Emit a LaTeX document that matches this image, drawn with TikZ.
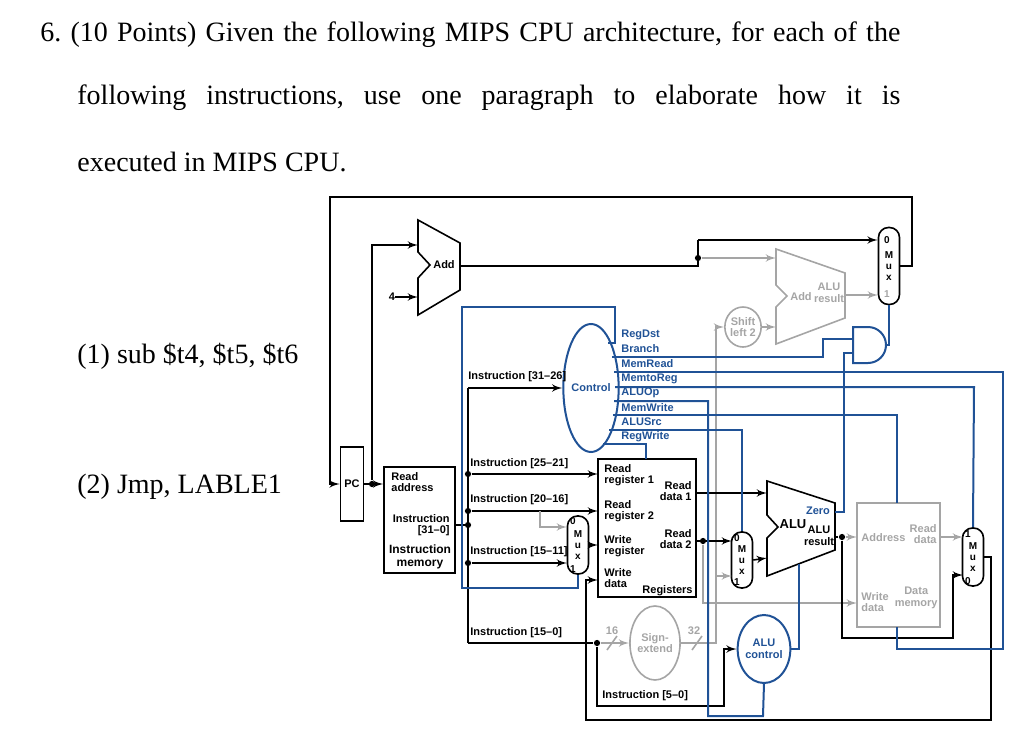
\documentclass[tikz,border=0pt]{standalone}
\usepackage{fontspec}
\setmainfont{Liberation Serif}
\newfontfamily\dsans{Liberation Sans}
\usetikzlibrary{shapes.geometric, arrows, positioning}
\definecolor{ctrlblue}{RGB}{32,82,150}
\definecolor{dimgray}{RGB}{165,165,165}
\tikzstyle{wire} = [draw, line width=0.8pt]
\tikzstyle{line} = [wire, -latex']
\tikzstyle{ctl} = [draw=ctrlblue, line width=1pt]
\tikzstyle{ghost} = [draw=dimgray, line width=0.8pt]
\tikzstyle{lbl} = [font=\dsans\bfseries\fontsize{5.5}{5.8}\selectfont, inner sep=0pt, align=center]
\tikzstyle{mux} = [draw, line width=0.8pt, rounded corners=5pt, minimum width=10.5pt, inner sep=0pt, align=center, font=\dsans\bfseries\fontsize{5}{5.3}\selectfont]
\tikzstyle{dot} = [circle, fill, inner sep=1.1pt]
\tikzstyle{qtext} = [anchor=west, inner sep=0pt, font=\fontsize{14}{16}\selectfont]

\begin{document}
\begin{tikzpicture}[x=0.5pt, y=-0.5pt]
        \useasboundingbox (0,0) rectangle (1024,750);
        % Question
        \node [qtext] (q1) at (40,35) {\hbox to 430pt{6.\hfill (10\hfill Points)\hfill Given\hfill the\hfill following\hfill MIPS\hfill CPU\hfill architecture,\hfill for\hfill each\hfill of\hfill the}};
        \node [qtext] (q2) at (77,98) {\hbox to 411.5pt{following\hfill instructions,\hfill use\hfill one\hfill paragraph\hfill to\hfill elaborate\hfill how\hfill it\hfill is}};
        \node [qtext] (q3) at (77,162) {executed in MIPS CPU.};
        \node [qtext] (i1) at (77,356) {(1) sub \$t4, \$t5, \$t6};
        \node [qtext] (i2) at (77,487) {(2) Jmp, LABLE1};

        % Blocks
        \node [draw, line width=0.8pt, minimum width=11.5pt, minimum height=37pt, lbl, inner sep=0pt] (pc) at (352,484) {PC};
        \node [draw, line width=0.8pt, minimum width=35.5pt, minimum height=53pt] (imem) at (419.5,520) {};
        \node [lbl, anchor=north west, align=left] (imemra) at (391,472) {Read\\address};
        \node [lbl, anchor=east, align=right] (imemins) at (450,525) {Instruction\\{[31–0]}};
        \node [lbl, font=\dsans\bfseries\fontsize{6}{6.3}\selectfont] (imemname) at (420,557) {Instruction\\memory};
        \draw [wire] (418,220) -- (460,243) -- (460,290) -- (418,315) -- (418,278) -- (430,265) -- (418,252) -- cycle;
        \node [lbl] (add1) at (444,265) {Add};
        \node [lbl] (four) at (392,297) {4};
        \draw [ghost] (776,249) -- (845,273) -- (845,318) -- (776,344) -- (776,307) -- (787,296) -- (776,285) -- cycle;
        \node [lbl, text=dimgray] (add2) at (801,297) {Add};
        \node [lbl, text=dimgray] (add2res) at (829,293) {ALU\\result};
        \node [ellipse, ghost, minimum width=17pt, minimum height=20pt, inner sep=0pt, lbl, text=dimgray] (shift) at (743,327) {Shift\\left 2};
        \node [mux, minimum height=38.5pt] (pcmux) at (889,266) {M\\u\\x};
        \node [lbl, font=\dsans\bfseries\fontsize{5}{5}\selectfont] (pcmux0) at (887,240) {0};
        \node [lbl, font=\dsans\bfseries\fontsize{5}{5}\selectfont, text=dimgray] (pcmux1) at (887,294) {1};
        \draw [ctl] (853,327) -- (868,327) arc[start angle=90, end angle=-90, radius=9pt] -- (853,363) -- cycle;

        \node [ellipse, ctl, minimum width=24pt, minimum height=64pt, inner sep=0pt, lbl, text=ctrlblue] (control) at (591,388) {Control};
        \foreach \sname/\yy in {RegDst/335, Branch/349, MemRead/364, MemtoReg/379, ALUOp/393, MemWrite/408, ALUSrc/422, RegWrite/437}
            \node [lbl, text=ctrlblue, anchor=west] (sig\sname) at (621,\yy) {\sname};

        \node [draw, line width=0.8pt, minimum width=49pt, minimum height=69pt] (regs) at (647,528) {};
        \node [lbl, anchor=north west, align=left] (rr1) at (604,464) {Read\\register 1};
        \node [lbl, anchor=north west, align=left] (rr2) at (604,500) {Read\\register 2};
        \node [lbl, anchor=north west, align=left] (wr) at (604,535) {Write\\register};
        \node [lbl, anchor=north west, align=left] (wd) at (604,568) {Write\\data};
        \node [lbl, anchor=north east, align=right] (rd1) at (692,481) {Read\\data 1};
        \node [lbl, anchor=north east, align=right] (rd2) at (692,529) {Read\\data 2};
        \node [lbl, anchor=north east] (regname) at (693,585) {Registers};
        \node [mux, minimum height=29pt] (rdmux) at (578,545) {M\\u\\x};
        \node [lbl, font=\dsans\bfseries\fontsize{5}{5}\selectfont] (rdmux0) at (573,521) {0};
        \node [lbl, font=\dsans\bfseries\fontsize{5}{5}\selectfont] (rdmux1) at (573,569) {1};
        \node [ellipse, ghost, minimum width=22.5pt, minimum height=37pt, inner sep=0pt, lbl, text=dimgray] (sign) at (655,643) {Sign-\\extend};
        \node [mux, minimum height=28pt] (srcmux) at (742,560) {M\\u\\x};
        \node [lbl, font=\dsans\bfseries\fontsize{5}{5}\selectfont] (srcmux0) at (737,538) {0};
        \node [lbl, font=\dsans\bfseries\fontsize{5}{5}\selectfont] (srcmux1) at (737,582) {1};
        \draw [wire] (767,481) -- (835,503) -- (835,550) -- (767,576) -- (767,538) -- (778,527) -- (767,515) -- cycle;
        \node [lbl, font=\dsans\bfseries\fontsize{6.5}{7}\selectfont] (alu) at (793,524) {ALU};
        \node [lbl, text=ctrlblue] (zero) at (818,511) {Zero};
        \node [lbl] (alures) at (819,536) {ALU\\result};
        \node [ellipse, ctl, minimum width=24pt, minimum height=34pt, inner sep=0pt, lbl, text=ctrlblue] (aluctl) at (764,649) {ALU\\control};
        \node [draw=dimgray, line width=0.8pt, minimum width=41.5pt, minimum height=62pt] (dmem) at (898.5,565) {};
        \node [lbl, text=dimgray, anchor=west] (dmaddr) at (861,538) {Address};
        \node [lbl, text=dimgray, anchor=east, align=right] (dmrd) at (937,534) {Read\\data};
        \node [lbl, text=dimgray, anchor=west, align=left] (dmwd) at (861,602) {Write\\data};
        \node [lbl, text=dimgray, anchor=east] (dmname) at (938,598) {Data\\memory};
        \node [mux, minimum height=29pt] (wbmux) at (973,557) {M\\u\\x};
        \node [lbl, font=\dsans\bfseries\fontsize{5}{5}\selectfont] (wbmux1) at (968,534) {1};
        \node [lbl, font=\dsans\bfseries\fontsize{5}{5}\selectfont] (wbmux0) at (968,581) {0};

        % Instruction fields
        \node [lbl, anchor=south west] (f3126) at (468,382) {Instruction [31–26]};
        \node [lbl, anchor=south west] (f2521) at (470,469) {Instruction [25–21]};
        \node [lbl, anchor=south west] (f2016) at (470,505) {Instruction [20–16]};
        \node [lbl, anchor=south west] (f1511) at (470,557) {Instruction [15–11]};
        \node [lbl, anchor=south west] (f150) at (470,638) {Instruction [15–0]};
        \node [lbl, anchor=south west] (f50) at (602,701) {Instruction [5–0]};
        \node [lbl, text=dimgray] (w16) at (612,631) {16};
        \node [lbl, text=dimgray] (w32) at (694,631) {32};

        % Datapath wires
        \draw [line] (pcmux.east) -- (912,266) -- (912,197) -- (330,197) -- (330,484) -- (pc.west);
        \draw [line] (pc.east) -- (imem.west |- pc.east);
        \node [dot] (jpc) at (372,484) {};
        \draw [line] (jpc) |- (418,245);
        \draw [line] (four) -- (418,297);
        \draw [wire] (460,266) -- (698,266) -- (698,240);
        \draw [line] (698,240) -- (pcmux.west |- 0,240);
        \node [dot] (jadd) at (698,258) {};
        \draw [ghost, -latex'] (jadd) -- (776,258);
        \draw [ghost, -latex'] (845,295) -- (878,295);
        \draw [ghost, -latex'] (shift) -- (776,327);
        \draw [wire] (455,525) -- (468,525);
        \draw [wire] (468,388) -- (468,643);
        \draw [line] (468,388) -- (control.west);
        \foreach \yy in {474,511,525,563} \node [dot] (jb\yy) at (468,\yy) {};
        \draw [line] (jb474) -- (598,474);
        \draw [line] (jb511) -- (598,511);
        \draw [line] (jb563) -- (567,563);
        \draw [ghost, -latex'] (540,511) |- (567,527);
        \draw [line] (rdmux.east) -- (598,545);
        \node [dot] (jsx) at (597,643) {};
        \draw [wire] (468,643) -- (jsx);
        \draw [ghost, -latex'] (jsx) -- (sign.west);
        \draw [ghost] (607,650) -- (617,636) (692,650) -- (702,636);
        \draw [ghost, -latex'] (sign.east) -- (716,643) -- (716,327) -- (shift.west);
        \draw [ghost, -latex'] (716,576) -- (732,576);
        \draw [line] (jsx) -- (597,706) -- (724,706) -- (724,649) -- (aluctl.west);
        \draw [line] (696,493) -- (767,493);
        \node [dot] (jrd2) at (703,541) {};
        \draw [line] (696,541) -- (732,541);
        \draw [ghost, -latex'] (jrd2) -- (703,603) -- (857,603);
        \draw [line] (srcmux.east) -- (767,558);
        \node [dot] (jres) at (842,537) {};
        \draw [wire] (835,537) -- (jres);
        \draw [ghost, -latex'] (jres) -- (857,537);
        \draw [line] (jres) -- (842,638) -- (953,638) -- (953,575) -- (963,575);
        \draw [ghost, -latex'] (940,537) -- (963,537);
        \draw [line] (wbmux.east) -- (991,557) -- (991,720) -- (586,720) -- (586,580) -- (598,580);

        % Control wires
        \draw [ctl] (608,343) -- (615,343) -- (615,307) -- (462,307) -- (462,588) -- (578,588) -- (rdmux.south);
        \draw [ctl] (612,357) -- (823,357) -- (823,339) -- (853,339);
        \draw [ctl] (614,372) -- (1003,372) -- (1003,649) -- (897,649) -- (897,627);
        \draw [ctl] (615,387) -- (974,387) -- (wbmux.north);
        \draw [ctl] (614,401) -- (708,401) -- (708,716) -- (763,716) -- (aluctl.south);
        \draw [ctl] (613,415) -- (897,415) -- (897,503);
        \draw [ctl] (609,430) -- (742,430) -- (srcmux.north);
        \draw [ctl] (603,444) -- (646,444) -- (646,459);
        \draw [ctl] (835,512) -- (844,512) -- (844,353) -- (853,353);
        \draw [ctl] (886,345) -- (889,345) -- (pcmux.south);
        \draw [ctl] (aluctl.east) -- (799,649) -- (799,564);
    \end{tikzpicture}
\end{document}
